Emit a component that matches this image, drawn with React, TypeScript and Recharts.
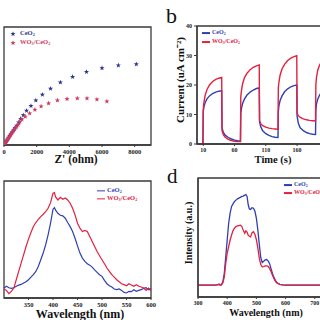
import React from 'react';
import { ScatterChart, Scatter, LineChart, Line, XAxis, YAxis, ReferenceArea } from 'recharts';

// panel a: Nyquist plot (Z' vs -Z'')
const eisCeX = [20, 50, 100, 150, 210, 280, 350, 420, 500, 590, 680, 780, 900, 1020, 1180, 1380, 1650, 1950, 2350, 2850, 3450, 4200, 5050, 6000, 7000, 8100];
const eisCeY = [20, 50, 100, 150, 210, 280, 345, 415, 490, 570, 655, 740, 860, 1000, 1140, 1310, 1490, 1700, 1920, 2150, 2390, 2600, 2790, 2935, 3040, 3080];
const eisWoX = [15, 45, 90, 140, 200, 260, 330, 400, 480, 560, 650, 750, 860, 970, 1100, 1300, 1570, 1890, 2270, 2730, 3270, 3860, 4490, 5080, 5690, 6300];
const eisWoY = [15, 45, 90, 140, 195, 250, 315, 380, 450, 520, 600, 680, 770, 880, 975, 1080, 1205, 1345, 1475, 1590, 1705, 1755, 1780, 1780, 1740, 1665];
const eisXTicks = [0, 2000, 4000, 6000, 8000];
const eisYTicks = [0, 1000, 2000, 3000, 4000];

// panel b: photocurrent on/off
const photoTime = [
  0, 9.5, 10, 11, 13, 16, 20, 25, 30, 35, 39.5,
  40, 42, 45, 50, 55, 60, 65, 69.5,
  70, 71, 73, 76, 80, 85, 90, 95, 99.5,
  100, 102, 105, 110, 115, 120, 125, 129.5,
  130, 131, 133, 136, 140, 145, 150, 155, 159.5,
  160, 162, 165, 170, 175, 180, 185, 189.5,
  190, 191, 193, 196, 200, 205, 210, 215, 219.5,
  220, 222, 225, 230, 235, 240,
];
const photoCe = [
  0, 0, 11, 12.5, 14, 15.3, 16.3, 17.1, 17.6, 17.9, 18.0,
  5.5, 4.0, 3.0, 2.2, 1.7, 1.3, 1.1, 1.0,
  10.5, 12, 13.8, 15.3, 16.6, 17.6, 18.3, 18.8, 19.0,
  7.5, 5.8, 4.5, 3.5, 2.9, 2.5, 2.3, 2.2,
  11, 13, 14.8, 16.3, 17.7, 18.7, 19.4, 19.8, 20.0,
  9.5, 7.0, 5.5, 4.5, 3.9, 3.5, 3.3, 3.2,
  11.5, 13.5, 15.2, 16.6, 17.8, 18.8, 19.5, 19.9, 20.2,
  9.8, 7.2, 5.6, 4.6, 4.0, 3.6,
];
const photoWo = [
  0, 0, 11.5, 14, 16.5, 18.5, 20, 21.2, 21.9, 22.3, 22.6,
  4.5, 3.2, 2.3, 1.6, 1.2, 0.9, 0.8, 0.8,
  16, 18, 20.5, 22.5, 24, 25.2, 26, 26.5, 26.8,
  8, 6.8, 6.2, 5.7, 5.4, 5.2, 5.1, 5.0,
  19, 21, 23.5, 25.5, 27, 28.3, 29.1, 29.6, 29.9,
  10.5, 9.6, 9.0, 8.5, 8.2, 8.0, 7.9, 7.8,
  20, 22.5, 25, 26.8, 28.2, 29.3, 30, 30.5, 30.8,
  11, 10, 9.4, 9, 8.7, 8.5,
];
const photoXTicks = [10, 60, 110, 160, 210];
const photoYTicks = [0, 10, 20, 30, 40];

// panel c: PL spectra
const plWave = [300, 305, 310, 315, 320, 325, 330, 335, 340, 345, 350, 355, 360, 365, 370, 375, 380, 385, 390, 395, 400, 403, 405, 410, 415, 420, 425, 430, 435, 440, 445, 450, 455, 460, 465, 470, 475, 480, 485, 490, 495, 500, 505, 510, 515, 520, 525, 530, 535, 540, 545, 550, 555, 560, 565, 570, 575, 580, 585, 590, 595, 600];
const plCe = [8.5, 10, 8.8, 8.2, 8.8, 10, 11, 11.6, 12.8, 13.9, 15.6, 17.9, 19.9, 22.7, 27, 32.7, 38.4, 45.5, 54, 64, 75.9, 77.3, 75.3, 72.4, 70.7, 70.2, 68.2, 64.5, 61, 56.8, 51.1, 44.6, 38.4, 34.1, 31.3, 29.3, 28.1, 26.4, 24.1, 21.9, 19.9, 18.5, 15.1, 12.2, 10.5, 9.4, 7.7, 7.1, 7.7, 6.5, 4.8, 4.3, 5.7, 5.4, 7.1, 5.7, 6.5, 7.1, 8.2, 8.8, 7.1, 8.2];
const plWo = [7.7, 6.5, 3.7, 5.7, 8.5, 15.6, 22.7, 29.8, 36.9, 44, 50.3, 56, 61.1, 64.5, 67.3, 69.6, 71.6, 73.9, 76.7, 81.5, 89.5, 90.1, 86.6, 83.8, 86, 84.4, 85.5, 83.8, 81, 76.7, 71, 63.9, 59.7, 56.8, 57.7, 56.8, 52.6, 48.3, 44, 39.8, 36.1, 32.7, 29.3, 25.6, 22.7, 19.9, 17.9, 15.6, 13.9, 12.2, 11.4, 10.5, 12.2, 11.1, 10, 11.4, 10, 9.4, 8.5, 6.5, 8.5, 6];
const plTicks = [300, 350, 400, 450, 500, 550, 600];

// panel d: emission spectra
const dWave = [300, 340, 360, 368, 372, 376, 380, 385, 390, 395, 400, 405, 410, 415, 420, 425, 430, 435, 440, 445, 450, 455, 460, 464, 468, 472, 476, 480, 485, 490, 495, 500, 505, 510, 515, 520, 525, 530, 535, 540, 545, 550, 555, 560, 565, 570, 575, 580, 590, 600, 700, 800];
const dCe = [9.9, 9.9, 9.9, 10.4, 10.7, 10.0, 10.2, 12.7, 19.7, 33.8, 47.9, 62, 70.4, 76.1, 78.3, 80.3, 81.4, 82.5, 83.1, 83.7, 84.5, 84.8, 85.6, 86, 84.5, 77.5, 74, 73.5, 75, 74.6, 72, 66, 56.3, 44, 33, 29, 30.1, 31.3, 31.5, 30.4, 28.2, 23.9, 19.7, 16.5, 14, 12.1, 11.3, 10.7, 10.1, 9.9, 9.9, 9.9];
const dWo = [9.9, 9.9, 9.9, 10.4, 10.7, 10.0, 10.2, 11.8, 16.9, 28.2, 36.6, 42.3, 47.9, 52.1, 55.8, 57.8, 59.2, 59.7, 60.0, 60.3, 59.4, 56, 53.5, 55.5, 54.5, 52, 51, 50.5, 54, 54.9, 52.5, 48.1, 41, 32.4, 27.3, 25.4, 25.6, 26.2, 26.2, 25.8, 24, 21.4, 18.3, 15.5, 13.2, 11.8, 11.2, 10.7, 10.1, 9.9, 9.9, 9.9];
const dTicks = [300, 400, 500, 600, 700, 800];

const BLUE = '#2f3fb3';
const RED = '#e3203f';
const BLUE_PT = '#2b3690';
const RED_PT = '#d3385e';
const AXIS = '#3a3a3a';
const FONT = '"Liberation Serif", "Times New Roman", serif';

const zip = (xs: number[], ys: number[]) => xs.map((x, i) => ({ x, y: ys[i] }));

const axisLine = { stroke: AXIS, strokeWidth: 1.3 };
const tickStyle = (size: number) => ({ fontSize: size, fontWeight: 700, fill: '#222', fontFamily: FONT });
const noLabel = () => <g />;

// small five-point star marker
const starShape = (color: string) => (props: any) => {
  const { cx, cy } = props;
  if (cx == null || cy == null) return <g />;
  const pts: string[] = [];
  for (let i = 0; i < 10; i++) {
    const r = i % 2 === 0 ? 2.7 : 1.1;
    const a = -Math.PI / 2 + (i * Math.PI) / 5;
    pts.push(`${cx + r * Math.cos(a)},${cy + r * Math.sin(a)}`);
  }
  return <polygon points={pts.join(' ')} fill={color} />;
};

const Frame = ({ x, y }: { x: number[]; y: number[] }) => (
  <ReferenceArea x1={x[0]} x2={x[1]} y1={y[0]} y2={y[1]} fill="none" fillOpacity={0} stroke={AXIS} strokeWidth={1.3} ifOverflow="visible" />
);

const SubTxt = ({ t }: { t: string }) => (
  <span style={{ fontSize: '65%', verticalAlign: '-0.25em' }}>{t}</span>
);
const CeName = () => <span>CeO<SubTxt t="2" /></span>;
const WoName = () => <span>WO<SubTxt t="3" />/CeO<SubTxt t="2" /></span>;

const Title = ({ text, x, y, size, rotate }: { text: string; x: number; y: number; size: number; rotate?: boolean }) => (
  <div
    style={{
      position: 'absolute',
      left: x,
      top: y,
      transform: `translate(-50%, -50%)${rotate ? ' rotate(-90deg)' : ''}`,
      whiteSpace: 'nowrap',
      fontSize: size,
      fontWeight: 700,
      fontFamily: FONT,
      color: '#111',
      lineHeight: 1,
    }}
  >
    {text}
  </div>
);

const LegendRow = ({ x, y, color, size, marker, children }: any) => (
  <div
    style={{
      position: 'absolute',
      left: x,
      top: y,
      transform: 'translateY(-50%)',
      display: 'flex',
      alignItems: 'center',
      whiteSpace: 'nowrap',
      fontSize: size,
      fontWeight: 700,
      fontFamily: FONT,
      color,
      lineHeight: 1,
    }}
  >
    {marker === 'star' ? (
      <svg width={8} height={8} style={{ marginRight: 3 }}>
        {starShape(color)({ cx: 4, cy: 4 })}
      </svg>
    ) : (
      <span style={{ width: 8, height: 1.5, background: color, marginRight: 2 }} />
    )}
    {children}
  </div>
);

const PanelLetter = ({ text, x, y, size }: { text: string; x: number; y: number; size: number }) => (
  <div style={{ position: 'absolute', left: x, top: y, fontSize: size, fontFamily: FONT, lineHeight: 1, color: '#111' }}>
    {text}
  </div>
);

export default function App() {
  return (
    <div
      style={{
        position: 'fixed',
        left: 0,
        top: 0,
        width: 320,
        height: 320,
        overflow: 'hidden',
        background: '#fff',
        fontFamily: FONT,
      }}
    >
      {/* a */}
      <div style={{ position: 'absolute', left: 0, top: 0 }}>
        <ScatterChart width={160} height={170} margin={{ top: 27, right: 9, bottom: 0, left: 4 }}>
          <XAxis dataKey="x" type="number" domain={[0, 9000]} ticks={eisXTicks} height={25} tickSize={2}
            tick={tickStyle(6.5)} axisLine={axisLine} tickLine={{ stroke: AXIS }} allowDataOverflow />
          <YAxis dataKey="y" type="number" domain={[0, 4500]} ticks={eisYTicks} width={0} tickSize={3} mirror
            tick={noLabel} axisLine={axisLine} tickLine={{ stroke: AXIS }} allowDataOverflow />
          <Frame x={[0, 9000]} y={[0, 4500]} />
          <Scatter data={zip(eisCeX, eisCeY)} shape={starShape(BLUE_PT)} isAnimationActive={false} />
          <Scatter data={zip(eisWoX, eisWoY)} shape={starShape(RED_PT)} isAnimationActive={false} />
        </ScatterChart>
      </div>
      <LegendRow x={9} y={34} color={BLUE_PT} size={6.5} marker="star"><CeName /></LegendRow>
      <LegendRow x={9} y={43} color={RED_PT} size={6.5} marker="star"><WoName /></LegendRow>
      <Title text="Z' (ohm)" x={76} y={160} size={11.5} />

      {/* b */}
      <div style={{ position: 'absolute', left: 160, top: 0 }}>
        <LineChart width={200} height={170} margin={{ top: 26, right: 11, bottom: 0, left: 0 }}>
          <XAxis dataKey="x" type="number" domain={[0, 243]} ticks={photoXTicks} height={26} tickSize={2}
            tick={tickStyle(6)} axisLine={axisLine} tickLine={{ stroke: AXIS }} />
          <YAxis type="number" domain={[0, 40]} ticks={photoYTicks} width={37} tickSize={3}
            tick={tickStyle(6)} axisLine={axisLine} tickLine={{ stroke: AXIS }} />
          <Frame x={[0, 243]} y={[0, 40]} />
          <Line data={zip(photoTime, photoCe)} dataKey="y" stroke={BLUE} strokeWidth={1.4} dot={false} type="linear" isAnimationActive={false} />
          <Line data={zip(photoTime, photoWo)} dataKey="y" stroke={RED} strokeWidth={1.4} dot={false} type="linear" isAnimationActive={false} />
        </LineChart>
      </div>
      <PanelLetter text="b" x={166} y={5} size={22} />
      <LegendRow x={202} y={33} color={BLUE} size={6} marker="line"><CeName /></LegendRow>
      <LegendRow x={202} y={42} color={RED} size={6} marker="line"><WoName /></LegendRow>
      <Title text="Current (uA cm⁻²)" x={180} y={80} size={11} rotate />
      <Title text="Time (s)" x={273} y={160} size={10.5} />

      {/* c */}
      <div style={{ position: 'absolute', left: 0, top: 160 }}>
        <LineChart width={160} height={160} margin={{ top: 21, right: 9, bottom: 0, left: 4 }}>
          <XAxis dataKey="x" type="number" domain={[300, 600]} ticks={plTicks} height={22} tickSize={2}
            tick={tickStyle(6.5)} axisLine={axisLine} tickLine={{ stroke: AXIS }} />
          <YAxis type="number" domain={[0, 100]} width={0} tick={false} tickLine={false} axisLine={axisLine} />
          <Frame x={[300, 600]} y={[0, 100]} />
          <Line data={zip(plWave, plCe)} dataKey="y" stroke={BLUE} strokeWidth={1.2} dot={false} type="linear" isAnimationActive={false} />
          <Line data={zip(plWave, plWo)} dataKey="y" stroke={RED} strokeWidth={1.2} dot={false} type="linear" isAnimationActive={false} />
        </LineChart>
      </div>
      <LegendRow x={97} y={191} color={BLUE} size={6.5} marker="line"><CeName /></LegendRow>
      <LegendRow x={97} y={199} color={RED} size={6.5} marker="line"><WoName /></LegendRow>
      <Title text="Wavelength (nm)" x={80} y={314} size={12} />

      {/* d */}
      <div style={{ position: 'absolute', left: 160, top: 160 }}>
        <LineChart width={200} height={160} margin={{ top: 18, right: 16, bottom: 0, left: 0 }}>
          <XAxis dataKey="x" type="number" domain={[300, 800]} ticks={dTicks} height={23} tickSize={2}
            tick={tickStyle(6)} axisLine={axisLine} tickLine={{ stroke: AXIS }} />
          <YAxis type="number" domain={[0, 100]} width={38} tick={false} tickLine={false} axisLine={axisLine} />
          <Frame x={[300, 800]} y={[0, 100]} />
          <Line data={zip(dWave, dCe)} dataKey="y" stroke={BLUE} strokeWidth={1.3} dot={false} type="linear" isAnimationActive={false} />
          <Line data={zip(dWave, dWo)} dataKey="y" stroke={RED} strokeWidth={1.3} dot={false} type="linear" isAnimationActive={false} />
        </LineChart>
      </div>
      <PanelLetter text="d" x={167} y={166} size={21} />
      <LegendRow x={284} y={185} color={BLUE} size={6} marker="line"><CeName /></LegendRow>
      <LegendRow x={284} y={193} color={RED} size={6} marker="line"><WoName /></LegendRow>
      <Title text="Intensity (a.u.)" x={189} y={233} size={10} rotate />
      <Title text="Wavelength (nm)" x={266} y={313} size={10} />
    </div>
  );
}
